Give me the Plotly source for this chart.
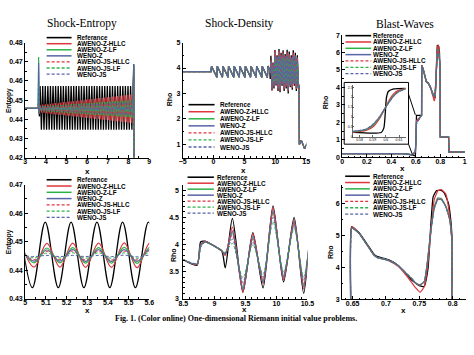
import plotly.graph_objects as go

W, H = 474, 355

names = ["Reference", "AWENO-Z-HLLC", "AWENO-Z-LF", "WENO-Z",
         "AWENO-JS-HLLC", "AWENO-JS-LF", "WENO-JS"]
names_alt = ["Referance"] + names[1:]
colors = ["#000000", "#e0353c", "#2fb14a", "#5863a8", "#e0353c", "#2fb14a", "#5863a8"]
dashes = ["solid", "solid", "solid", "solid", "3px,2px", "3px,2px", "3px,2px"]
widths = [1.3, 1.2, 1.2, 1.2, 1.0, 1.0, 1.0]

# ---------------- Shock-Entropy (full) ----------------
se_x = [3.722, 3.785, 3.847, 3.910, 3.972, 4.035, 4.097, 4.160, 4.222, 4.285, 4.347, 4.410,
        4.472, 4.535, 4.597, 4.660, 4.722, 4.785, 4.847, 4.910, 4.972, 5.035, 5.097, 5.160,
        5.222, 5.285, 5.347, 5.410, 5.472, 5.535, 5.597, 5.660, 5.722, 5.785, 5.847, 5.910,
        5.972, 6.035, 6.097, 6.160, 6.222, 6.285, 6.347, 6.410, 6.472, 6.535, 6.597, 6.660,
        6.722, 6.785, 6.847, 6.910, 6.972, 7.035, 7.097, 7.160, 7.222, 7.285, 7.347, 7.410,
        7.472, 7.535, 7.597, 7.660, 7.722, 7.785, 7.847, 7.910, 7.972, 8.035, 8.097, 8.160, 8.222]
se_peaks = [
    [0.4573, 0.4573, 0.4573, 0.4573, 0.4573, 0.4573, 0.4573, 0.4573, 0.4573, 0.4573, 0.4573, 0.4573,
     0.4573, 0.4573, 0.4573, 0.4573, 0.4573, 0.4573, 0.4573, 0.4573, 0.4573, 0.4573, 0.4573, 0.4573,
     0.4573, 0.4573, 0.4573, 0.4573, 0.4573, 0.4573, 0.4573, 0.4573, 0.4573, 0.4573, 0.4573, 0.4573, 0.4573],
    [0.4475, 0.4477, 0.4478, 0.4480, 0.4481, 0.4483, 0.4484, 0.4486, 0.4487, 0.4489, 0.4490, 0.4492,
     0.4493, 0.4495, 0.4496, 0.4498, 0.4499, 0.4501, 0.4503, 0.4504, 0.4506, 0.4507, 0.4509, 0.4510,
     0.4512, 0.4513, 0.4515, 0.4516, 0.4518, 0.4519, 0.4521, 0.4522, 0.4524, 0.4525, 0.4527, 0.4529, 0.4530],
    [0.4467, 0.4468, 0.4469, 0.4470, 0.4471, 0.4472, 0.4473, 0.4473, 0.4474, 0.4475, 0.4476, 0.4477,
     0.4478, 0.4479, 0.4480, 0.4481, 0.4482, 0.4483, 0.4483, 0.4484, 0.4485, 0.4486, 0.4487, 0.4488,
     0.4489, 0.4490, 0.4491, 0.4492, 0.4493, 0.4494, 0.4494, 0.4495, 0.4496, 0.4497, 0.4498, 0.4499, 0.4500],
    [0.4464, 0.4465, 0.4465, 0.4466, 0.4467, 0.4468, 0.4468, 0.4469, 0.4470, 0.4470, 0.4471, 0.4472,
     0.4472, 0.4473, 0.4474, 0.4475, 0.4475, 0.4476, 0.4477, 0.4477, 0.4478, 0.4479, 0.4479, 0.4480,
     0.4481, 0.4482, 0.4482, 0.4483, 0.4484, 0.4484, 0.4485, 0.4486, 0.4486, 0.4487, 0.4488, 0.4489, 0.4489],
    [0.4463, 0.4463, 0.4464, 0.4464, 0.4465, 0.4466, 0.4466, 0.4467, 0.4467, 0.4468, 0.4468, 0.4469,
     0.4470, 0.4470, 0.4471, 0.4471, 0.4472, 0.4472, 0.4473, 0.4474, 0.4474, 0.4475, 0.4475, 0.4476,
     0.4477, 0.4477, 0.4478, 0.4478, 0.4479, 0.4479, 0.4480, 0.4481, 0.4481, 0.4482, 0.4482, 0.4483, 0.4484],
    [0.4460, 0.4460, 0.4461, 0.4461, 0.4462, 0.4462, 0.4462, 0.4463, 0.4463, 0.4464, 0.4464, 0.4464,
     0.4465, 0.4465, 0.4466, 0.4466, 0.4466, 0.4467, 0.4467, 0.4467, 0.4468, 0.4468, 0.4469, 0.4469,
     0.4469, 0.4470, 0.4470, 0.4471, 0.4471, 0.4471, 0.4472, 0.4472, 0.4473, 0.4473, 0.4473, 0.4474, 0.4474],
    [0.4457, 0.4457, 0.4457, 0.4457, 0.4458, 0.4458, 0.4458, 0.4458, 0.4458, 0.4459, 0.4459, 0.4459,
     0.4459, 0.4459, 0.4460, 0.4460, 0.4460, 0.4460, 0.4460, 0.4460, 0.4461, 0.4461, 0.4461, 0.4461,
     0.4461, 0.4462, 0.4462, 0.4462, 0.4462, 0.4462, 0.4462, 0.4463, 0.4463, 0.4463, 0.4463, 0.4463, 0.4463],
]
se_troughs = [
    [0.4345, 0.4345, 0.4345, 0.4345, 0.4345, 0.4345, 0.4345, 0.4345, 0.4345, 0.4345, 0.4345, 0.4345,
     0.4345, 0.4345, 0.4345, 0.4345, 0.4345, 0.4345, 0.4345, 0.4345, 0.4345, 0.4345, 0.4345, 0.4345,
     0.4345, 0.4345, 0.4345, 0.4345, 0.4345, 0.4345, 0.4345, 0.4345, 0.4345, 0.4345, 0.4345, 0.4345],
    [0.4434, 0.4433, 0.4431, 0.4430, 0.4428, 0.4427, 0.4425, 0.4424, 0.4422, 0.4421, 0.4419, 0.4417,
     0.4416, 0.4414, 0.4413, 0.4411, 0.4410, 0.4408, 0.4407, 0.4405, 0.4404, 0.4402, 0.4401, 0.4399,
     0.4398, 0.4396, 0.4395, 0.4393, 0.4391, 0.4390, 0.4388, 0.4387, 0.4385, 0.4384, 0.4382, 0.4381],
    [0.4442, 0.4442, 0.4441, 0.4440, 0.4439, 0.4438, 0.4437, 0.4436, 0.4435, 0.4434, 0.4433, 0.4432,
     0.4432, 0.4431, 0.4430, 0.4429, 0.4428, 0.4427, 0.4426, 0.4425, 0.4424, 0.4423, 0.4422, 0.4421,
     0.4421, 0.4420, 0.4419, 0.4418, 0.4417, 0.4416, 0.4415, 0.4414, 0.4413, 0.4412, 0.4411, 0.4410],
    [0.4446, 0.4445, 0.4445, 0.4444, 0.4443, 0.4443, 0.4442, 0.4441, 0.4441, 0.4440, 0.4439, 0.4438,
     0.4438, 0.4437, 0.4436, 0.4436, 0.4435, 0.4434, 0.4434, 0.4433, 0.4432, 0.4431, 0.4431, 0.4430,
     0.4429, 0.4429, 0.4428, 0.4427, 0.4427, 0.4426, 0.4425, 0.4424, 0.4424, 0.4423, 0.4422, 0.4422],
    [0.4447, 0.4447, 0.4446, 0.4446, 0.4445, 0.4444, 0.4444, 0.4443, 0.4443, 0.4442, 0.4442, 0.4441,
     0.4440, 0.4440, 0.4439, 0.4439, 0.4438, 0.4437, 0.4437, 0.4436, 0.4436, 0.4435, 0.4435, 0.4434,
     0.4433, 0.4433, 0.4432, 0.4432, 0.4431, 0.4430, 0.4430, 0.4429, 0.4429, 0.4428, 0.4428, 0.4427],
    [0.4450, 0.4450, 0.4449, 0.4449, 0.4448, 0.4448, 0.4448, 0.4447, 0.4447, 0.4446, 0.4446, 0.4446,
     0.4445, 0.4445, 0.4444, 0.4444, 0.4444, 0.4443, 0.4443, 0.4442, 0.4442, 0.4442, 0.4441, 0.4441,
     0.4440, 0.4440, 0.4440, 0.4439, 0.4439, 0.4438, 0.4438, 0.4438, 0.4437, 0.4437, 0.4436, 0.4436],
    [0.4453, 0.4453, 0.4453, 0.4453, 0.4452, 0.4452, 0.4452, 0.4452, 0.4452, 0.4451, 0.4451, 0.4451,
     0.4451, 0.4451, 0.4450, 0.4450, 0.4450, 0.4450, 0.4450, 0.4450, 0.4449, 0.4449, 0.4449, 0.4449,
     0.4449, 0.4448, 0.4448, 0.4448, 0.4448, 0.4448, 0.4448, 0.4447, 0.4447, 0.4447, 0.4447, 0.4447],
]
se_lead_x = [[3.0, 3.66, 3.69]] + [[3.0, 3.63, 3.65, 3.675, 3.70]] * 6
se_lead_y = [
    [0.4457, 0.4457, 0.4415],
    [0.4457, 0.4457, 0.4505, 0.4430, 0.4455],
    [0.4457, 0.4457, 0.4725, 0.4430, 0.4455],
    [0.4457, 0.4457, 0.4695, 0.4430, 0.4455],
    [0.4457, 0.4457, 0.4490, 0.4430, 0.4455],
    [0.4457, 0.4457, 0.4600, 0.4430, 0.4455],
    [0.4457, 0.4457, 0.4650, 0.4430, 0.4455],
]
se_tail_x = [8.25, 8.262, 9.0]
se_tail_y = [[0.4687, 0.41, 0.41], [0.4660, 0.41, 0.41], [0.4670, 0.41, 0.41], [0.4685, 0.41, 0.41],
             [0.4660, 0.41, 0.41], [0.4665, 0.41, 0.41], [0.4680, 0.41, 0.41]]

# ---------------- Shock-Entropy (zoom) ----------------
ez_x_ref = [4.972, 5.035, 5.097, 5.160, 5.222, 5.284, 5.347, 5.409, 5.471, 5.533, 5.596, 5.658]
ez_x_num = [4.980, 5.043, 5.105, 5.168, 5.230, 5.292, 5.355, 5.417, 5.479, 5.541, 5.604, 5.666]
ez_y = [
    [0.4569, 0.4339, 0.4569, 0.4339, 0.4569, 0.4339, 0.4569, 0.4339, 0.4569, 0.4339, 0.4569, 0.4339],
    [0.4494, 0.4411, 0.4494, 0.4411, 0.4495, 0.4410, 0.4495, 0.4410, 0.4496, 0.4409, 0.4496, 0.4409],
    [0.4478, 0.4426, 0.4478, 0.4426, 0.4479, 0.4425, 0.4479, 0.4425, 0.4480, 0.4424, 0.4480, 0.4424],
    [0.4471, 0.4432, 0.4471, 0.4432, 0.4472, 0.4431, 0.4472, 0.4431, 0.4472, 0.4431, 0.4473, 0.4430],
    [0.4466, 0.4437, 0.4466, 0.4437, 0.4467, 0.4436, 0.4467, 0.4436, 0.4467, 0.4436, 0.4468, 0.4435],
    [0.4460, 0.4443, 0.4460, 0.4443, 0.4461, 0.4442, 0.4461, 0.4442, 0.4461, 0.4442, 0.4462, 0.4442],
    [0.4452, 0.4448, 0.4452, 0.4448, 0.4452, 0.4448, 0.4452, 0.4448, 0.4453, 0.4447, 0.4453, 0.4447],
]

# ---------------- Shock-Density ----------------
sd_head_x = [-5.0, -0.40, -0.33, 0.53, 0.61, 1.44, 1.52, 2.35, 2.43, 3.26, 3.34, 4.17, 4.25,
             5.08, 5.16, 5.99, 6.07, 6.90, 6.98, 7.81, 7.89]
sd_head_y = [3.857, 3.857, 4.07, 3.64, 4.07, 3.64, 4.07, 3.64, 4.07, 3.64, 4.07, 3.64, 4.07,
             3.64, 4.07, 3.64, 4.07, 3.64, 4.07, 3.64, 4.07]
sd_x = [8.5, 8.72, 8.78, 8.85, 9.0, 9.12, 9.175, 9.29, 9.46, 9.62, 9.785, 9.945, 10.115, 10.285,
        10.44, 10.6, 10.77, 10.93, 11.1, 11.26, 11.43, 11.59, 11.76, 11.92, 12.09, 12.25, 12.42,
        12.58, 12.75, 12.91, 13.08, 13.24, 13.41, 13.57, 13.72, 13.85]
sd_y = [
    [3.72, 3.62, 4.05, 4.06, 3.97, 3.88, 3.57, 4.48, 3.12, 4.22, 3.20, 4.71, 3.31, 4.50, 3.10,
     4.75, 3.05, 4.60, 3.30, 4.70, 3.10, 4.55, 3.20, 4.72, 3.00, 4.65, 3.25, 4.50, 3.15, 4.70,
     3.30, 4.60, 3.10, 4.50, 3.20, 3.30],
    [3.72, 3.63, 4.00, 4.06, 3.97, 3.88, 3.80, 4.32, 3.12, 4.20, 3.28, 4.68, 3.35, 4.45, 3.18,
     4.68, 3.12, 4.52, 3.35, 4.62, 3.18, 4.48, 3.28, 4.62, 3.10, 4.55, 3.30, 4.42, 3.22, 4.60,
     3.35, 4.50, 3.18, 4.42, 3.28, 3.30],
    [3.72, 3.64, 3.98, 4.05, 3.97, 3.88, 3.82, 4.22, 3.20, 4.12, 3.33, 4.60, 3.40, 4.40, 3.25,
     4.60, 3.20, 4.45, 3.40, 4.55, 3.25, 4.42, 3.33, 4.55, 3.18, 4.48, 3.35, 4.37, 3.28, 4.52,
     3.40, 4.45, 3.25, 4.37, 3.33, 3.33],
    [3.72, 3.64, 3.99, 4.05, 3.97, 3.88, 3.82, 4.25, 3.18, 4.15, 3.30, 4.62, 3.38, 4.42, 3.22,
     4.62, 3.18, 4.47, 3.38, 4.57, 3.22, 4.44, 3.31, 4.57, 3.15, 4.50, 3.33, 4.40, 3.25, 4.55,
     3.38, 4.47, 3.22, 4.40, 3.30, 3.32],
    [3.72, 3.64, 3.97, 4.05, 3.97, 3.88, 3.83, 4.18, 3.25, 4.10, 3.35, 4.58, 3.42, 4.38, 3.28,
     4.58, 3.22, 4.42, 3.42, 4.52, 3.28, 4.40, 3.35, 4.52, 3.20, 4.45, 3.38, 4.35, 3.30, 4.50,
     3.42, 4.42, 3.28, 4.35, 3.35, 3.35],
    [3.72, 3.65, 3.95, 4.04, 3.97, 3.89, 3.86, 4.02, 3.38, 4.00, 3.45, 4.42, 3.50, 4.30, 3.40,
     4.45, 3.35, 4.30, 3.50, 4.40, 3.38, 4.30, 3.45, 4.40, 3.30, 4.35, 3.45, 4.28, 3.40, 4.40,
     3.50, 4.32, 3.38, 4.28, 3.42, 3.40],
    [3.72, 3.65, 3.96, 4.05, 3.97, 3.88, 3.85, 4.10, 3.30, 4.05, 3.40, 4.50, 3.45, 4.35, 3.35,
     4.50, 3.30, 4.37, 3.45, 4.45, 3.33, 4.35, 3.40, 4.45, 3.25, 4.40, 3.42, 4.32, 3.35, 4.45,
     3.45, 4.38, 3.33, 4.32, 3.38, 3.38],
]
sd_tail_x = [13.90, 14.20, 14.75, 15.30]
sd_tail_y = [1.00, 1.17, 0.83, 1.12]

# ---------------- Blast waves ----------------
bw_lead_x = [0.0, 0.50, 0.575, 0.597, 0.6025, 0.606, 0.6475]
bw_lead_y = [
    [0.20, 0.20, 0.12, 0.08, 1.20, 2.40, 2.40],
    [0.20, 0.20, 0.14, 0.30, 1.30, 2.10, 2.40],
    [0.20, 0.20, 0.14, 0.35, 1.20, 2.00, 2.40],
    [0.20, 0.20, 0.14, 0.35, 1.20, 2.00, 2.40],
    [0.20, 0.20, 0.14, 0.35, 1.20, 2.00, 2.40],
    [0.20, 0.20, 0.15, 0.40, 1.10, 1.90, 2.40],
    [0.20, 0.20, 0.15, 0.40, 1.10, 1.90, 2.40],
]
bw_x_ref = [0.6485, 0.6597, 0.6719, 0.6816, 0.6865, 0.7036, 0.7182, 0.7279, 0.7376, 0.7498,
            0.7571, 0.7630, 0.7668, 0.7707, 0.7756, 0.7815, 0.7873, 0.7936, 0.7975, 0.7995]
bw_y_ref = [5.27, 5.08, 4.72, 4.42, 4.34, 4.24, 4.06, 3.86, 3.62, 3.43,
            3.40, 3.96, 5.18, 6.20, 6.39, 6.41, 6.33, 6.00, 5.39, 4.67]
bw_x_num = [0.6490, 0.6597, 0.6719, 0.6816, 0.6865, 0.7036, 0.7182, 0.7279, 0.7376, 0.7449,
            0.7510, 0.7575, 0.7620, 0.7668, 0.7722, 0.7778, 0.7830, 0.7895, 0.7955, 0.7990]
bw_y_num = [
    [5.27, 5.06, 4.69, 4.39, 4.31, 4.21, 4.03, 3.81, 3.55, 3.35,
     3.22, 3.40, 3.96, 4.98, 6.10, 6.39, 6.43, 6.30, 5.60, 4.70],
    [5.23, 5.06, 4.69, 4.39, 4.31, 4.22, 4.06, 3.86, 3.67, 3.50,
     3.45, 3.56, 4.16, 5.08, 5.87, 6.17, 6.15, 5.92, 5.50, 4.78],
    [5.23, 5.06, 4.69, 4.39, 4.31, 4.22, 4.06, 3.86, 3.67, 3.50,
     3.45, 3.55, 4.14, 5.06, 5.84, 6.13, 6.12, 5.90, 5.49, 4.78],
    [5.23, 5.06, 4.69, 4.39, 4.31, 4.22, 4.06, 3.86, 3.66, 3.49,
     3.44, 3.55, 4.15, 5.07, 5.85, 6.15, 6.14, 5.91, 5.49, 4.78],
    [5.22, 5.06, 4.69, 4.39, 4.31, 4.22, 4.06, 3.87, 3.68, 3.51,
     3.46, 3.57, 4.12, 5.02, 5.80, 6.11, 6.11, 5.89, 5.48, 4.78],
    [5.22, 5.06, 4.69, 4.39, 4.31, 4.22, 4.06, 3.87, 3.68, 3.51,
     3.46, 3.56, 4.13, 5.04, 5.82, 6.12, 6.12, 5.90, 5.48, 4.78],
]
bw_tail_x = [0.8003, 0.868, 0.8705, 1.0]
bw_tail_y = [1.15, 1.15, 0.30, 0.30]

# inset (contact discontinuity)
in_x_ref = [0.575, 0.5965, 0.5985, 0.6005, 0.602, 0.606, 0.615]
in_y_ref = [0.22, 0.22, 0.45, 2.00, 2.30, 2.42, 2.45]
in_x_num = [0.575, 0.585, 0.591, 0.5955, 0.599, 0.6025, 0.606, 0.610, 0.615]
in_y_num = [
    [0.24, 0.32, 0.55, 0.95, 1.40, 1.85, 2.18, 2.36, 2.44],
    [0.26, 0.36, 0.62, 1.00, 1.40, 1.78, 2.10, 2.32, 2.43],
    [0.27, 0.38, 0.66, 1.03, 1.40, 1.76, 2.07, 2.30, 2.42],
    [0.26, 0.36, 0.62, 1.00, 1.40, 1.78, 2.10, 2.32, 2.43],
    [0.27, 0.38, 0.66, 1.03, 1.40, 1.76, 2.07, 2.30, 2.42],
    [0.28, 0.40, 0.70, 1.06, 1.40, 1.74, 2.04, 2.28, 2.41],
]


def weave(peaks, troughs):
    out = []
    for p, t in zip(peaks, troughs):
        out += [p, t]
    out.append(peaks[len(troughs)])
    return out


def px_x(a, b):
    return [a / W, b / W]


def px_y(top, bottom):
    return [1 - bottom / H, 1 - top / H]


fig = go.Figure()


def add(k, x, y, ax, shape="linear", smooth=1.0):
    line = dict(color=colors[k], width=widths[k], dash=dashes[k], shape=shape)
    if shape == "spline":
        line["smoothing"] = smooth
    fig.add_trace(go.Scatter(x=x, y=y, mode="lines", line=line, showlegend=False,
                             hoverinfo="skip", xaxis="x" + ax, yaxis="y" + ax))


for k in range(7):
    yo = weave(se_peaks[k], se_troughs[k])
    add(k, se_lead_x[k] + se_x[:len(yo)] + se_tail_x, se_lead_y[k] + yo + se_tail_y[k], "")
for k in range(7):
    add(k, sd_head_x + sd_x + sd_tail_x, sd_head_y + sd_y[k] + sd_tail_y, "2")
for k in range(7):
    xm = bw_x_ref if k == 0 else bw_x_num
    ym = bw_y_ref if k == 0 else bw_y_num[k - 1]
    add(k, bw_lead_x + xm + bw_tail_x, bw_lead_y[k] + ym + bw_tail_y, "3")
for k in range(7):
    add(k, ez_x_ref if k == 0 else ez_x_num, ez_y[k], "4", "spline", 1.0)
for k in range(7):
    add(k, sd_x, sd_y[k], "5", "spline", 0.7)
for k in range(7):
    xm = bw_x_ref if k == 0 else bw_x_num
    ym = bw_y_ref if k == 0 else bw_y_num[k - 1]
    add(k, [0.6475] + xm + [0.8003, 0.81], [2.4] + ym + [1.15, 1.15], "6", "spline", 0.4)
for k in range(7):
    add(k, in_x_ref if k == 0 else in_x_num, in_y_ref if k == 0 else in_y_num[k - 1], "7", "spline", 0.6)

tf = dict(family="Liberation Sans", size=7, color="black", weight="bold")


def axis(domain, rng, dtick, anchor, minor=None, tick0=None, font=tf, mirror=False, ticklen=3,
         standoff=0, lw=1):
    d = dict(domain=domain, range=rng, dtick=dtick, anchor=anchor, showline=True,
             linecolor="black", linewidth=lw, ticks="inside", ticklen=ticklen, tickwidth=lw,
             tickcolor="black", tickfont=font, showgrid=False, zeroline=False,
             fixedrange=True, mirror=mirror, ticklabelstandoff=standoff)
    if tick0 is not None:
        d["tick0"] = tick0
    if minor is not None:
        d["minor"] = dict(dtick=minor, ticks="inside", ticklen=1.5, tickcolor="black", showgrid=False)
    return d


lay = dict(width=W, height=H, margin=dict(l=0, r=0, t=0, b=0), autosize=False,
           paper_bgcolor="white", plot_bgcolor="rgba(0,0,0,0)")
lay["xaxis"] = axis(px_x(20.7, 148), [3, 9], 1, "y", 0.5, standoff=-3)
lay["yaxis"] = axis(px_y(39.3, 156.7), [0.42, 0.48], 0.01, "x", 0.005)
lay["xaxis2"] = axis(px_x(182.3, 309), [-5, 15], 5, "y2", 1, standoff=-3)
lay["yaxis2"] = axis(px_y(39.3, 156.7), [0.485, 5], 1, "x2", 0.5, tick0=0)
lay["xaxis3"] = axis(px_x(346, 471.7), [0, 1], 0.2, "y3", 0.05, standoff=-3)
lay["yaxis3"] = axis(px_y(31.7, 156.3), [0, 7], 1, "x3", 0.5)
lay["xaxis4"] = axis(px_x(20.7, 148), [5, 5.6], 0.1, "y4", 0.05, standoff=-3)
lay["yaxis4"] = axis(px_y(184.3, 300.7), [0.43, 0.47], 0.01, "x4", 0.005)
lay["xaxis5"] = axis(px_x(183, 310.3), [8.5, 10.5], 0.5, "y5", 0.1, standoff=-2)
lay["yaxis5"] = axis(px_y(185, 300.7), [3, 5.09], 0.5, "x5", 0.1, standoff=2)
lay["xaxis6"] = axis(px_x(345.7, 473), [0.634, 0.82], 0.05, "y6", 0.01, tick0=0.6, standoff=-3)
lay["yaxis6"] = axis(px_y(185, 301.3), [3, 6.56], 1, "x6", 0.5)
small = dict(family="Liberation Sans", size=3.5, color="black")
lay["xaxis7"] = axis(px_x(357, 411), [0.575, 0.615], 0.01, "y7", None, font=small, ticklen=1.5,
                     standoff=-1, lw=0.6)
lay["yaxis7"] = axis(px_y(83, 135.5), [0, 2.6], 0.5, "x7", None, font=small, ticklen=1.5,
                     standoff=-1, lw=0.6)
fig.update_layout(**lay)

ann = []
shapes = []


def text(x, y, s, size, family="Liberation Sans", bold=True, angle=0, xanchor="center", color="black"):
    ann.append(dict(x=x / W, y=1 - y / H, xref="paper", yref="paper", text=s, showarrow=False,
                    xanchor=xanchor, yanchor="middle", textangle=angle, borderpad=0,
                    font=dict(family=family, size=size, color=color,
                              weight="bold" if bold else "normal")))


def legend(x0, x1, xt, y0, dy, labels):
    for k in range(7):
        y = y0 + dy * k
        shapes.append(dict(type="line", xref="paper", yref="paper", x0=x0 / W, x1=x1 / W,
                           y0=1 - y / H, y1=1 - y / H,
                           line=dict(color=colors[k], width=widths[k] + 0.3, dash=dashes[k])))
        text(xt, y, labels[k], 6.3, xanchor="left")


legend(42.7, 68.3, 73, 34.3, 6.2, names_alt)
legend(188.3, 215, 219.7, 102.7, 7.2, names)
legend(349.3, 375.7, 377, 32.3, 6.45, names)
legend(42.7, 68.3, 73, 179.3, 6.4, names_alt)
legend(187.3, 214.3, 216, 176.7, 6.1, names)
legend(349, 374.3, 377, 175.7, 6.43, names)

# titles
serif = "Liberation Serif"
text(79, 20, "Shock-Entropy", 11.5, family=serif, bold=False)
text(241, 20, "Shock-Density", 11.5, family=serif, bold=False)
text(410, 20, "Blast-Waves", 11.5, family=serif, bold=False)
text(237, 321, "Fig. 1. (Color online) One-dimensional Riemann initial value problems.", 8, family=serif)

# axis titles
for (x, y) in [(85, 171), (245, 170), (408, 168), (84.5, 312.5), (246, 312), (409, 312.5)]:
    text(x, y, "x", 8)
text(4, 98, "Entropy", 6.5, angle=-90)
text(4, 242, "Entropy", 6.5, angle=-90)
for (x, y) in [(168.5, 97), (328.5, 100), (173.5, 256), (333.5, 253)]:
    text(x, y, "Rho", 7, angle=-90)

# inset frame and connector lines
shapes.append(dict(type="rect", xref="paper", yref="paper", x0=348 / W, x1=414 / W,
                   y0=1 - 143 / H, y1=1 - 80 / H, line=dict(color="black", width=1)))
for (a, b, c, d) in [(414, 92, 421, 113), (414, 143, 418, 153.5)]:
    shapes.append(dict(type="line", xref="paper", yref="paper", x0=a / W, y0=1 - b / H,
                       x1=c / W, y1=1 - d / H, line=dict(color="black", width=1)))

fig.update_layout(annotations=ann, shapes=shapes)
fig.write_html("out.html", config={"displayModeBar": False, "staticPlot": True},
               post_script="document.body.style.margin='0';document.body.style.overflow='hidden';")
